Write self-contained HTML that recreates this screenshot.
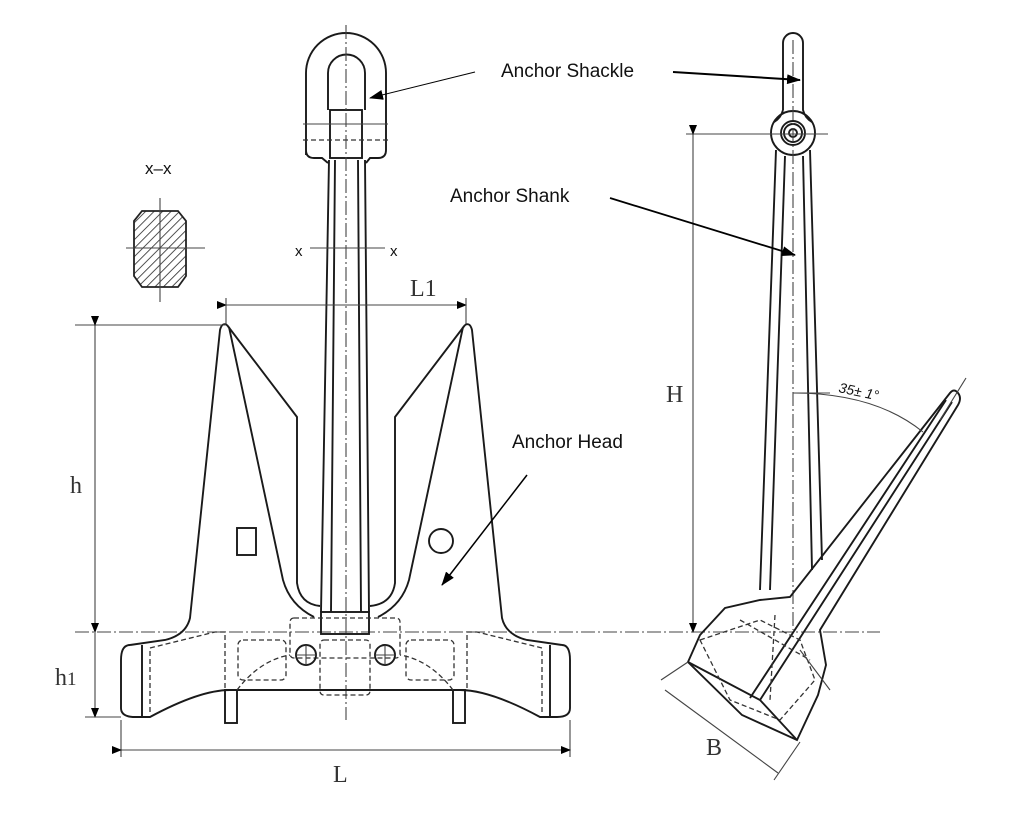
<!DOCTYPE html>
<html><head><meta charset="utf-8"><style>
html,body{margin:0;padding:0;background:#fff;}
svg{display:block}
.l{fill:none;stroke:#1a1a1a;stroke-width:1.9}
.t{fill:none;stroke:#444;stroke-width:1.1}
.d{fill:none;stroke:#333;stroke-width:1.3;stroke-dasharray:5,3}
.c{fill:none;stroke:#444;stroke-width:1.1;stroke-dasharray:14,3,2,3}
.lab{font-family:"Liberation Sans",sans-serif;font-size:19px;fill:#111}
.dim{font-family:"Liberation Serif",serif;font-size:24px;fill:#333}
</style></head><body>
<svg width="1018" height="840" viewBox="0 0 1018 840" xmlns="http://www.w3.org/2000/svg">
<defs>
<marker id="ar" markerWidth="10" markerHeight="8" refX="9" refY="4" orient="auto" markerUnits="userSpaceOnUse"><path d="M0,0 L10,4 L0,8z" fill="#000"/></marker>
<marker id="ab" markerWidth="14" markerHeight="10" refX="13" refY="5" orient="auto" markerUnits="userSpaceOnUse"><path d="M0,0 L14,5 L0,10z" fill="#000"/></marker>
<pattern id="hat" width="6" height="6" patternUnits="userSpaceOnUse" patternTransform="rotate(45)"><line x1="0" y1="0" x2="0" y2="6" stroke="#222" stroke-width="1.6"/></pattern>
</defs>

<line class="c" x1="75" y1="632" x2="880" y2="632"/>

<!-- FRONT VIEW -->
<path class="l" d="M306,155 L306,73 A40,40 0 0 1 386,73 L386,150 Q386,158 378,158 L370,158 L366,163 M306,150 Q306,158 314,158 L322,158 L328,163"/>
<path class="l" d="M328,110 L328,73 A18.5,18.5 0 0 1 365,73 L365,110"/>
<rect class="l" x="330" y="110" width="32" height="48"/>
<line class="t" x1="303" y1="124" x2="388" y2="124"/>
<line class="d" x1="303" y1="140" x2="388" y2="140"/>
<line class="c" x1="346" y1="25" x2="346" y2="720"/>
<path class="l" d="M329,160 L321,612 M335,160 L331,612 M358,160 L361,612 M365,160 L369,612"/>
<rect class="l" x="321" y="612" width="48" height="22"/>
<line class="t" x1="310" y1="248" x2="385" y2="248"/>
<text x="295" y="256" class="lab" style="font-size:15px">x</text>
<text x="390" y="256" class="lab" style="font-size:15px">x</text>
<text x="145" y="174" class="lab" style="font-size:17px">x–x</text>
<path d="M142,211 L178,211 L186,221 L186,276 L178,287 L142,287 L134,276 L134,221Z" fill="url(#hat)" stroke="#222" stroke-width="1.8"/>
<line class="t" x1="160" y1="198" x2="160" y2="302"/>
<line class="t" x1="126" y1="248" x2="205" y2="248"/>

<line class="t" x1="226" y1="305" x2="466" y2="305" marker-start="url(#ar)" marker-end="url(#ar)"/>
<line class="t" x1="226" y1="298" x2="226" y2="325"/>
<line class="t" x1="466" y1="298" x2="466" y2="325"/>
<text x="410" y="296" class="dim">L1</text>

<path class="l" d="M227,325 Q222,322 220,330 L190,618 Q186,635 165,640 L130,645"/>
<path class="l" d="M227,325 L297,417 L297,583 Q300,604 320,606"/>
<path class="l" d="M229,327 L283,580 Q290,605 314,617"/>
<path class="l" d="M465,325 Q470,322 472,330 L502,618 Q506,635 527,640 L562,645"/>
<path class="l" d="M465,325 L395,417 L395,583 Q392,604 370,606"/>
<path class="l" d="M463,327 L409,580 Q402,605 378,617"/>
<path class="l" d="M130,645 Q121,645 121,660 L121,708 Q121,717 135,717 L150,717 Q200,690 230,690 L460,690 Q490,690 540,717 L557,717 Q570,717 570,708 L570,660 Q570,645 562,645"/>
<path class="l" d="M142,645 L142,717 M550,645 L550,717"/>
<rect class="l" x="225" y="690" width="12" height="33"/>
<rect class="l" x="453" y="690" width="12" height="33"/>
<path class="d" d="M150,712 L150,648 L215,632 L225,632 L225,690 M542,712 L542,648 L477,632 L467,632 L467,690"/>
<path class="d" d="M237,690 Q260,660 290,655 M453,690 Q430,660 400,655"/>
<rect class="d" x="238" y="640" width="48" height="40" rx="5"/>
<rect class="d" x="406" y="640" width="48" height="40" rx="5"/>
<rect class="d" x="290" y="618" width="110" height="40" rx="4"/>
<rect class="d" x="320" y="640" width="50" height="55" rx="4"/>
<circle class="l" cx="306" cy="655" r="10"/>
<circle class="l" cx="385" cy="655" r="10"/>
<line class="t" x1="296" y1="655" x2="316" y2="655"/><line class="t" x1="306" y1="645" x2="306" y2="665"/>
<line class="t" x1="375" y1="655" x2="395" y2="655"/><line class="t" x1="385" y1="645" x2="385" y2="665"/>
<rect class="l" x="237" y="528" width="19" height="27"/>
<circle class="l" cx="441" cy="541" r="12"/>

<line class="t" x1="75" y1="325" x2="226" y2="325"/>
<line class="t" x1="95" y1="325" x2="95" y2="632" marker-start="url(#ar)" marker-end="url(#ar)"/>
<line class="t" x1="95" y1="632" x2="95" y2="717" marker-end="url(#ar)"/>
<line class="t" x1="85" y1="717" x2="121" y2="717"/>
<text x="70" y="493" class="dim">h</text>
<text x="55" y="685" class="dim">h<tspan style="font-size:19px">1</tspan></text>
<line class="t" x1="121" y1="720" x2="121" y2="757"/>
<line class="t" x1="570" y1="720" x2="570" y2="757"/>
<line class="t" x1="121" y1="750" x2="570" y2="750" marker-start="url(#ar)" marker-end="url(#ar)"/>
<text x="333" y="782" class="dim">L</text>

<!-- SIDE VIEW -->
<path class="l" d="M783,110 L783,43 A10,10 0 0 1 803,43 L803,110 Q805,118 812,122"/>
<path class="l" d="M783,110 Q781,118 774,122"/>
<circle class="l" cx="793" cy="133" r="22"/>
<circle class="l" cx="793" cy="133" r="12"/>
<circle class="l" cx="793" cy="133" r="9"/>
<circle class="l" cx="793" cy="133" r="4"/>
<line class="c" x1="793" y1="40" x2="793" y2="630"/>
<path class="l" d="M776,150 L760,590 M785,156 L770,590 M810,150 L822,560 M803,156 L812,570"/>
<line class="t" x1="686" y1="134" x2="828" y2="134"/>
<line class="t" x1="693" y1="134" x2="693" y2="632" marker-start="url(#ar)" marker-end="url(#ar)"/>
<text x="666" y="402" class="dim">H</text>
<path class="l" d="M958,393 Q962,398 958,405 L820,630 L826,665 L818,695 L797,740 L742,715 L688,662 L700,635 L725,608 L760,600 L790,597 L950,393 Q954,388 958,393Z"/>
<path class="l" d="M952,402 L760,700 M946,400 L750,698 M688,662 L760,700 L797,740"/>
<path class="d" d="M700,640 L760,620 L800,640 L815,680 L780,720 L730,700 Z"/>
<path class="d" d="M740,620 L810,660 M775,615 L770,700"/>
<line class="t" x1="966" y1="378" x2="940" y2="420"/>
<line class="t" x1="800" y1="650" x2="830" y2="690"/>
<line class="t" x1="793" y1="393" x2="830" y2="393"/>
<path class="t" d="M793,393 Q875,393 923,432"/>
<text x="838" y="392" class="lab" style="font-size:14px;font-style:italic" transform="rotate(12 838 392)">35± 1°</text>
<line class="t" x1="665" y1="690" x2="778" y2="773"/>
<line class="t" x1="661" y1="680" x2="688" y2="662"/>
<line class="t" x1="774" y1="780" x2="800" y2="742"/>
<text x="706" y="755" class="dim">B</text>

<text x="501" y="77" class="lab">Anchor Shackle</text>
<line x1="475" y1="72" x2="370" y2="98" stroke="#000" stroke-width="1" marker-end="url(#ab)"/>
<line x1="673" y1="72" x2="800" y2="80" stroke="#000" stroke-width="2" marker-end="url(#ab)"/>
<text x="450" y="202" class="lab">Anchor Shank</text>
<line x1="610" y1="198" x2="795" y2="255" stroke="#000" stroke-width="1.8" marker-end="url(#ab)"/>
<text x="512" y="448" class="lab">Anchor Head</text>
<line x1="527" y1="475" x2="442" y2="585" stroke="#000" stroke-width="1.5" marker-end="url(#ab)"/>
</svg>
</body></html>
